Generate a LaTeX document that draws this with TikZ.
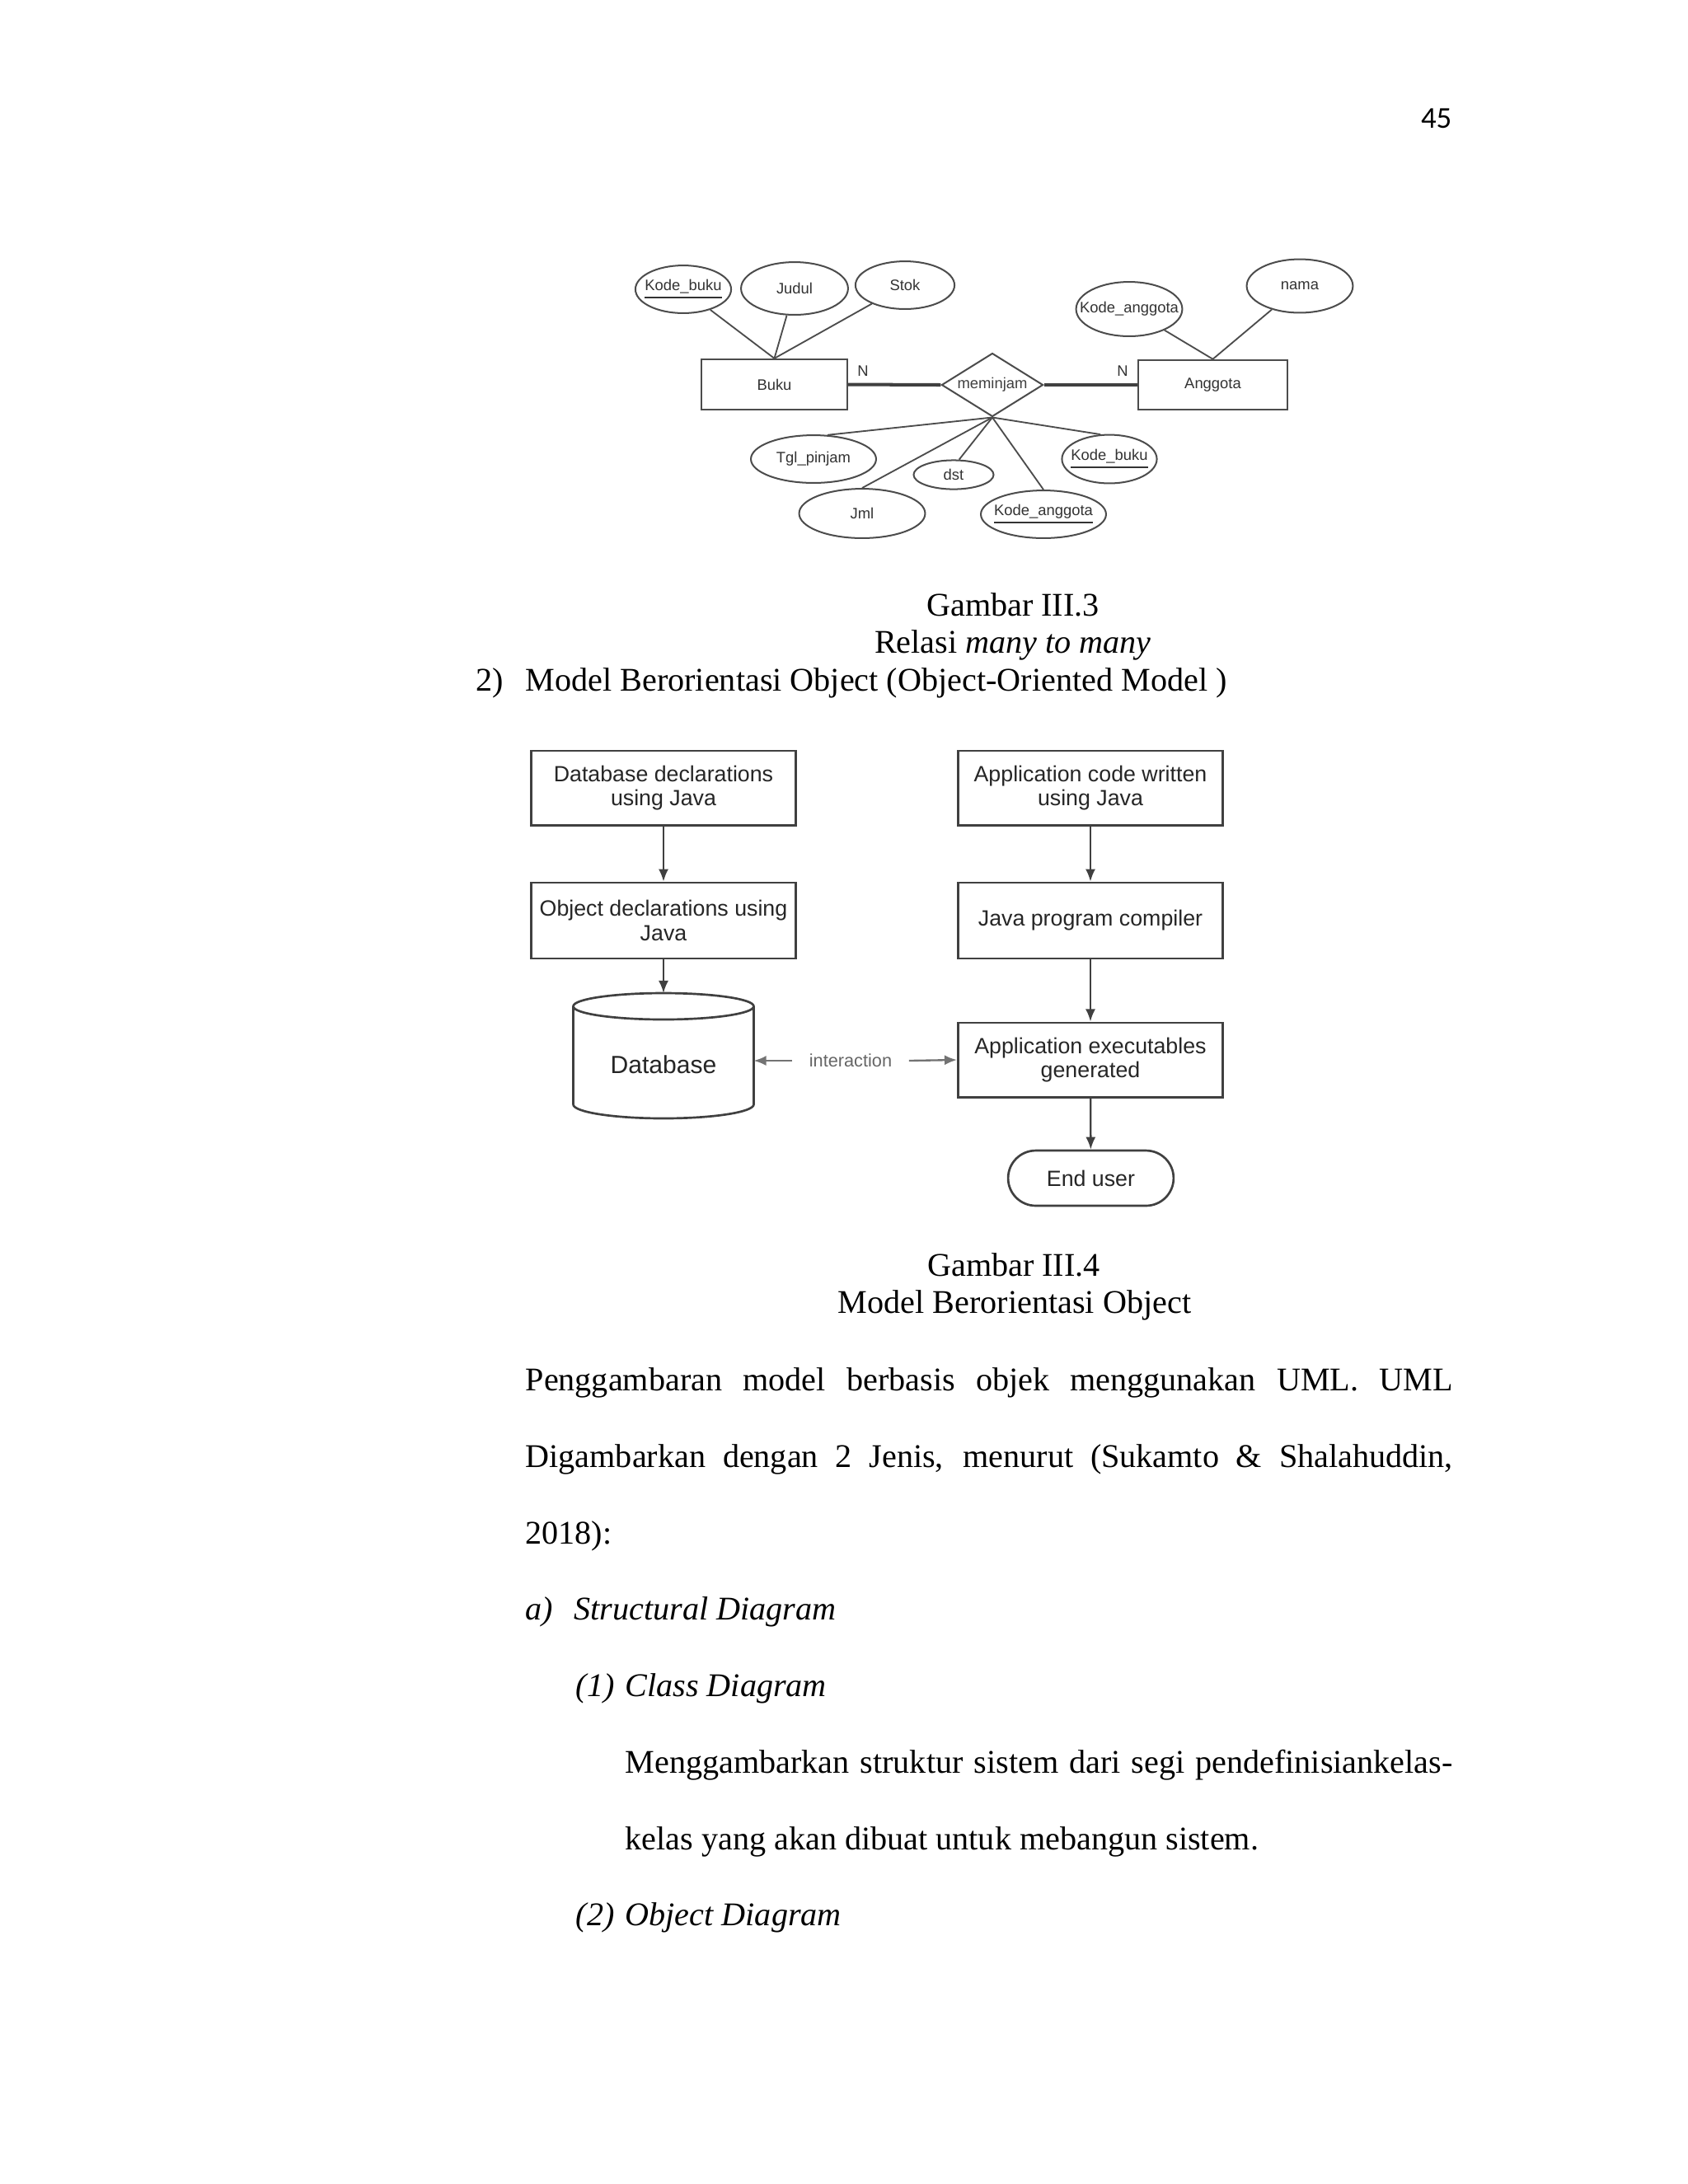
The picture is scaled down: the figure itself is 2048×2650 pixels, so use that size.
\documentclass[tikz,border=0pt]{standalone}
\usepackage{fontspec}
\setmainfont{Liberation Serif}
\setsansfont{Liberation Sans}
\newfontfamily\pagenumfont{Carlito}
\usetikzlibrary{shapes.geometric}
\usetikzlibrary{arrows.meta}

\newcommand{\erlabel}[1]{\makebox[0pt]{#1}}

\tikzset{
  body/.style={anchor=base west, inner sep=0, font=\fontsize{12}{14}\selectfont},
  figcap/.style={anchor=base, inner sep=0, font=\fontsize{12}{14}\selectfont},
  attr/.style={ellipse, draw=black!70, line width=0.6pt, inner sep=0, font=\sffamily\fontsize{5.5}{6.5}\selectfont, text=black!80},
  entity/.style={rectangle, draw=black!70, line width=0.7pt, inner sep=0, font=\sffamily\fontsize{5.5}{6.5}\selectfont, text=black!80},
  relation/.style={diamond, draw=black!70, line width=0.6pt, inner sep=0, minimum width=36.8pt, minimum height=23pt, font=\sffamily\fontsize{5.5}{6.5}\selectfont, text=black!75},
  erlbl/.style={inner sep=0, font=\sffamily\fontsize{5.5}{6.5}\selectfont, text=black!80},
  erline/.style={black!70, line width=0.55pt},
  heavyline/.style={black!75, line width=1.2pt},
  flowbox/.style={rectangle, draw=black!75, line width=0.8pt, minimum width=96pt, minimum height=27pt, align=center, inner sep=0, font=\sffamily\fontsize{8}{8.8}\selectfont, text=black!85},
  flow/.style={black!75, line width=0.7pt, -{Latex[length=4.5pt,width=3.6pt]}},
  dbline/.style={black!75, line width=0.8pt},
}

\begin{document}
\begin{tikzpicture}[x=0.29883pt, y=-0.29883pt]
\useasboundingbox (0,0) rectangle (2048,2650);
\fill[white] (0,0) rectangle (2048,2650);

% page number
\node[anchor=base east, inner sep=0, font=\pagenumfont\fontsize{11}{13}\selectfont] (pagenum) at (1762,155) {45};

% relasi many to many
\node[entity, minimum width=52.9pt, minimum height=18.2pt] (buku) at (939.5,466.5) {Buku};
\node[relation] (pinjam) at (1204,467) {\erlabel{meminjam}};
\node[entity, minimum width=54pt, minimum height=18pt] (anggota) at (1471.5,467) {Anggota};
\node[attr, minimum width=34.7pt, minimum height=17.3pt] (kbuku) at (829,351) {\erlabel{\underline{Kode\_buku}}};
\node[attr, minimum width=38.8pt, minimum height=19.1pt] (judul) at (964,350) {\erlabel{Judul}};
\node[attr, minimum width=35.9pt, minimum height=17.3pt] (stok) at (1098,346) {\erlabel{Stok}};
\node[attr, minimum width=38.5pt, minimum height=19.7pt] (kanggota) at (1370,375) {\erlabel{Kode\_anggota}};
\node[attr, minimum width=38.5pt, minimum height=19.4pt] (nama) at (1577,347) {\erlabel{nama}};
\node[attr, minimum width=45.4pt, minimum height=17.3pt] (tgl) at (987,557) {\erlabel{Tgl\_pinjam}};
\node[attr, minimum width=29pt, minimum height=10.5pt] (dst) at (1157,576) {\erlabel{dst}};
\node[attr, minimum width=34.4pt, minimum height=17.6pt] (kbuku2) at (1346,557) {\erlabel{\underline{Kode\_buku}}};
\node[attr, minimum width=45.7pt, minimum height=17.9pt] (jml) at (1046,623) {\erlabel{Jml}};
\node[attr, minimum width=45.4pt, minimum height=17.3pt] (kanggota2) at (1266,624) {\erlabel{\underline{Kode\_anggota}}};
\node[erlbl] (nbuku) at (1047,450) {N};
\node[erlbl] (nanggota) at (1362,450) {N};

\draw[heavyline] (buku.east) -- (pinjam.west);
\draw[heavyline] (pinjam.east) -- (anggota.west);
\draw[erline] (kbuku) -- (buku.north);
\draw[erline] (judul) -- (buku.north);
\draw[erline] (stok) -- (buku.north);
\draw[erline] (kanggota) -- (anggota.north);
\draw[erline] (nama) -- (anggota.north);
\draw[erline] (pinjam.south) -- (tgl.60);
\draw[erline] (pinjam.south) -- (jml.north);
\draw[erline] (pinjam.south) -- (dst.70);
\draw[erline] (pinjam.south) -- (kanggota2.north);
\draw[erline] (pinjam.south) -- (kbuku2.110);

\node[figcap] (cap3) at (1229,747) {Gambar III.3};
\node[figcap] (cap3b) at (1229,792) {Relasi \textit{many to many}};
\node[body] (num2) at (577,838) {2)};
\node[body] (num2t) at (637,838) {Model Berorientasi Object (Object-Oriented Model )};

% model berorientasi object
\node[flowbox] (dbdecl) at (805,956) {Database declarations\\using Java};
\node[flowbox, minimum height=27.5pt] (objdecl) at (805,1117) {Object declarations using\\Java};
\node[flowbox] (appcode) at (1323,956) {Application code written\\using Java};
\node[flowbox, minimum height=27.5pt] (compiler) at (1323,1117) {Java program compiler};
\node[flowbox] (appexec) at (1323,1286) {Application executables\\generated};
\node[flowbox, minimum width=60pt, minimum height=20pt, rounded corners=10pt] (enduser) at (1323.5,1429.5) {End user};

\draw[dbline, fill=white] (695.5,1221) -- (695.5,1340) arc[start angle=180, end angle=0, x radius=109.5, y radius=17] -- (914.5,1221);
\draw[dbline] (805,1221) ellipse[x radius=109.5, y radius=16];
\coordinate (dbtop) at (805,1205);
\coordinate (dbright) at (914.5,1287);
\node[inner sep=0, font=\sffamily\fontsize{9}{10}\selectfont, text=black!85] (db) at (805,1292) {Database};
\node[inner xsep=6pt, inner ysep=0, font=\sffamily\fontsize{6.5}{7}\selectfont, text=black!60] (inter) at (1032,1287) {interaction};

\draw[flow] (dbdecl) -- (objdecl);
\draw[flow] (objdecl) -- (dbtop);
\draw[flow] (appcode) -- (compiler);
\draw[flow] (compiler) -- (appexec);
\draw[flow] (appexec) -- (enduser);
\draw[flow, black!55] (inter.west) -- (dbright);
\draw[flow, black!55] (inter.east) -- (appexec.west);

\node[figcap] (cap4) at (1230,1548) {Gambar III.4};
\node[figcap] (cap4b) at (1231,1593) {Model Berorientasi Object};

% paragraf
\node[body] (par1) at (637,1687) {\makebox[336.2pt][s]{Penggambaran model berbasis objek menggunakan UML. UML}};
\node[body] (par2) at (637,1780) {\makebox[336.2pt][s]{Digambarkan dengan 2 Jenis, menurut (Sukamto \& Shalahuddin,}};
\node[body] (par3) at (637,1873) {2018):};
\node[body] (ita) at (637,1965) {\textit{a)}};
\node[body] (itat) at (696,1965) {\textit{Structural Diagram}};
\node[body] (it1) at (698,2058) {\textit{(1)}};
\node[body] (it1t) at (758,2058) {\textit{Class Diagram}};
\node[body] (desc1) at (758,2151) {\makebox[300pt][s]{Menggambarkan struktur sistem dari segi pendefinisiankelas-}};
\node[body] (desc2) at (758,2244) {kelas yang akan dibuat untuk mebangun sistem.};
\node[body] (it2) at (698,2336) {\textit{(2)}};
\node[body] (it2t) at (758,2336) {\textit{Object Diagram}};
\end{tikzpicture}
\end{document}
